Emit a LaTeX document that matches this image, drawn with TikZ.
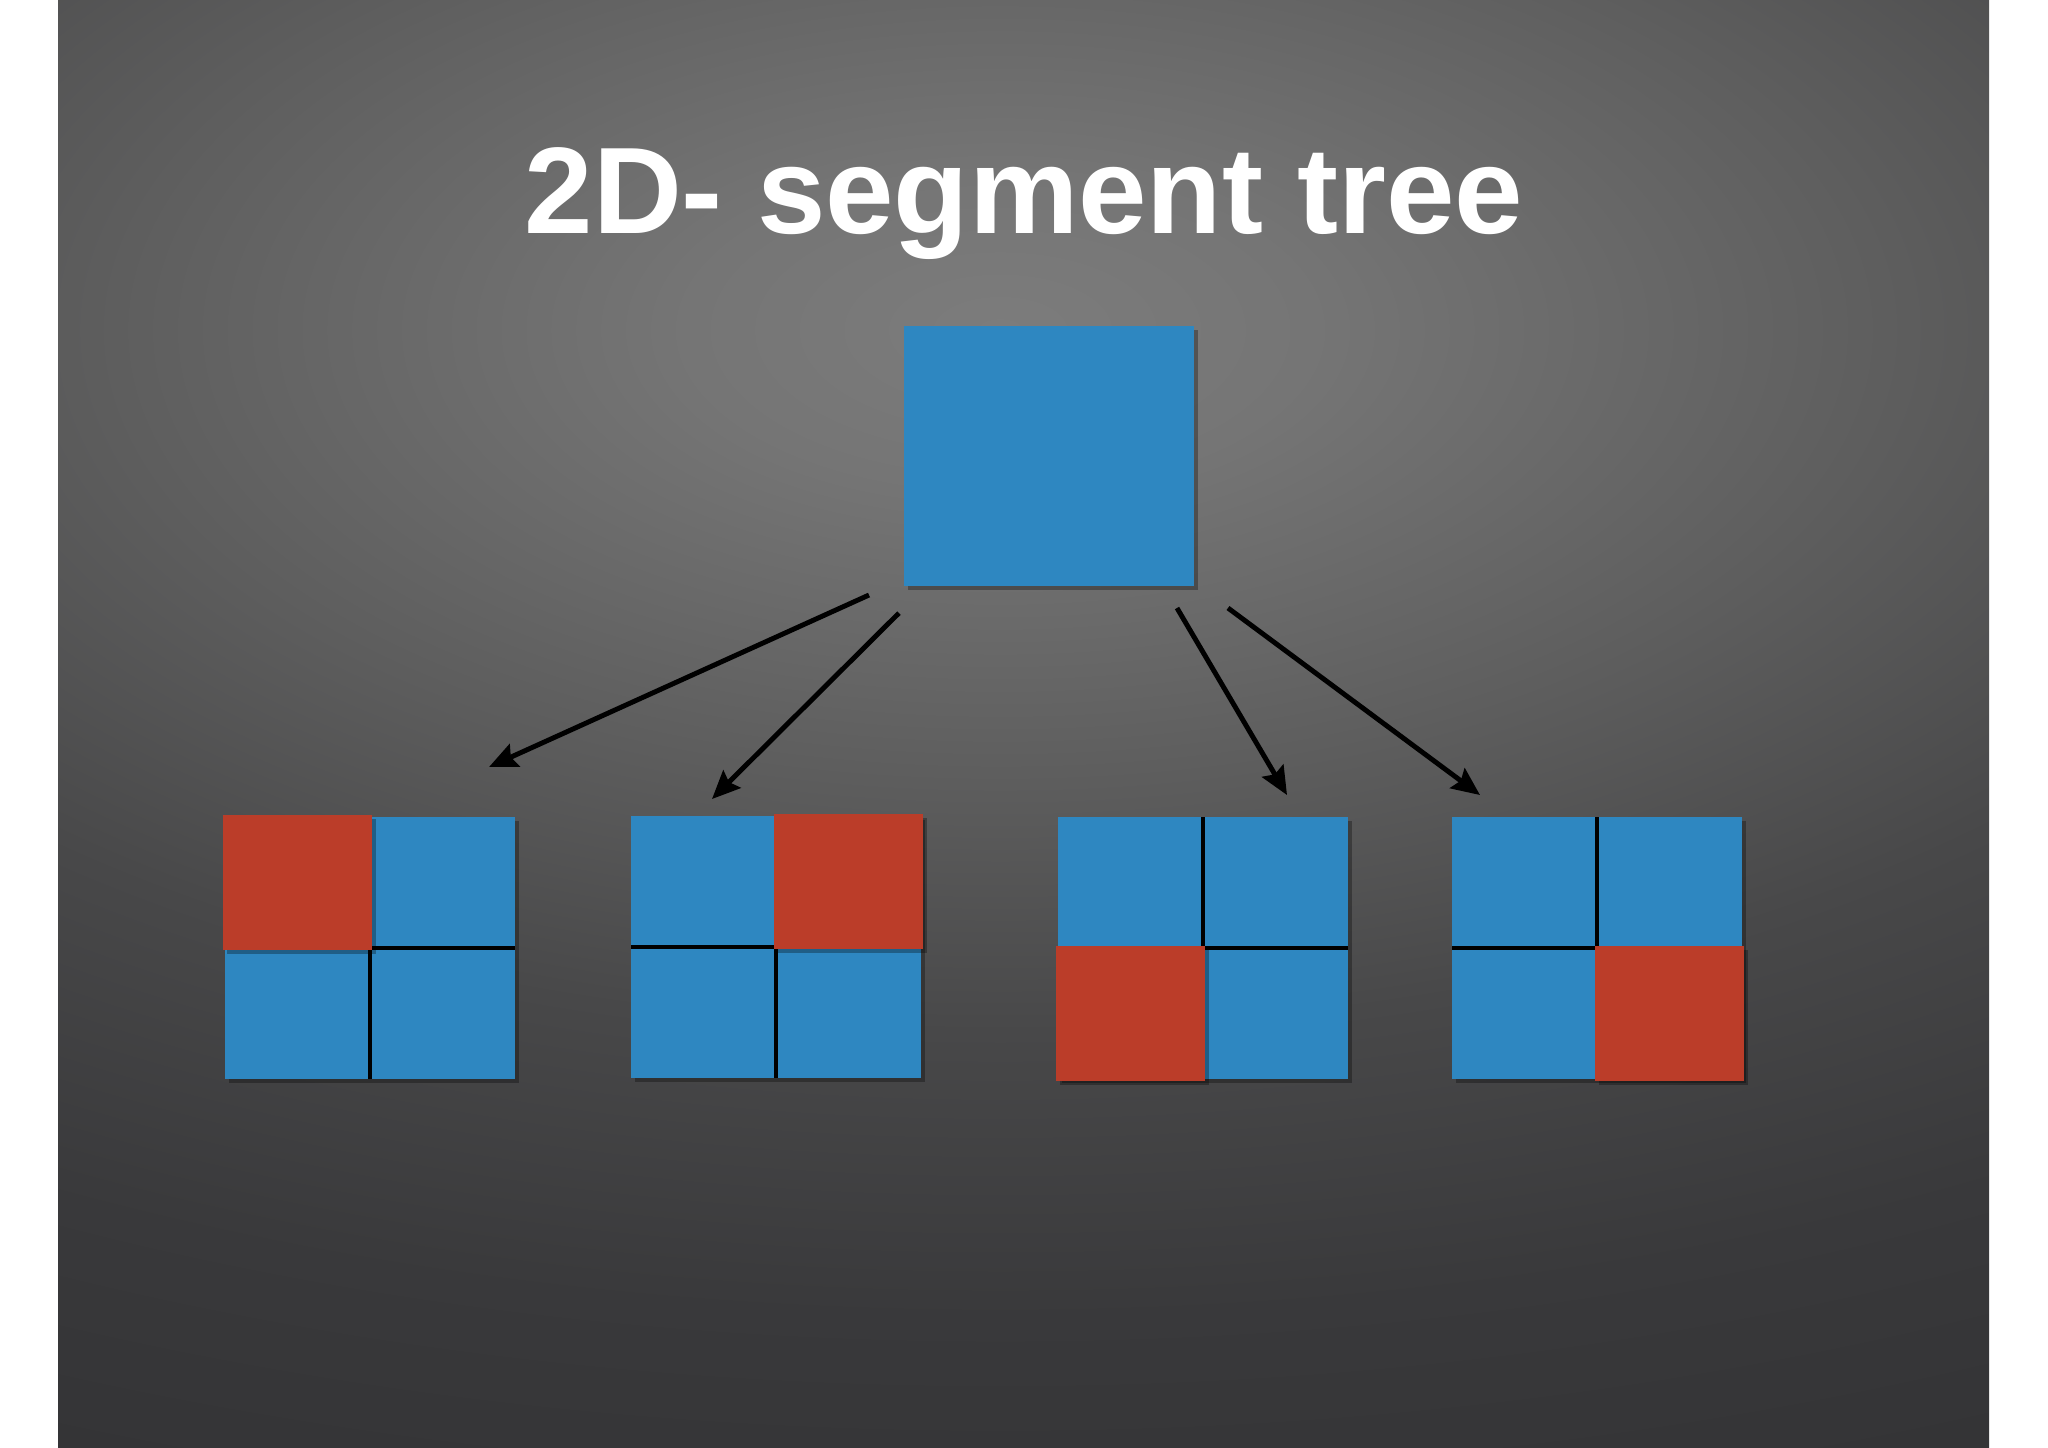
\documentclass[tikz,border=0pt]{standalone}
\usepackage{fontspec}
\setmainfont{Liberation Sans}
\usetikzlibrary{arrows.meta,shadows}
\definecolor{tileblue}{RGB}{46,135,193}
\definecolor{tilered}{RGB}{187,61,41}
\definecolor{bgA}{RGB}{124,124,124}
\definecolor{bgB}{RGB}{117,117,117}
\definecolor{bgC}{RGB}{94,94,94}
\definecolor{bgD}{RGB}{72,72,73}
\definecolor{bgE}{RGB}{57,57,59}
\definecolor{bgF}{RGB}{50,50,52}
\pgfdeclareradialshading{slidebg}{\pgfpoint{0bp}{0bp}}{color(0bp)=(bgA); color(3bp)=(bgB); color(8.5bp)=(bgC); color(13.5bp)=(bgD); color(19bp)=(bgE); color(25bp)=(bgF); color(50bp)=(bgF)}
\tikzset{
  tilebase/.style={rectangle, inner sep=0pt, outer sep=0pt, draw=none,
    drop shadow={fill=black, opacity=0.3, shadow xshift=1pt, shadow yshift=-1.2pt}},
  bluetile/.style={tilebase, fill=tileblue, minimum width=1.45cm, minimum height=1.31cm},
  redtile/.style={tilebase, fill=tilered, minimum width=1.49cm, minimum height=1.35cm},
  rootbox/.style={tilebase, fill=tileblue, minimum width=2.9cm, minimum height=2.6cm},
  divider/.style={draw=black, line width=1.4pt},
  link/.style={draw=black, line width=1.4pt, -{Stealth[length=8pt,width=7pt,inset=1.2pt]}},
  titletext/.style={text=white, font=\bfseries\fontsize{35}{40}\selectfont, inner sep=0pt}
}
\newcommand\quadbox[3]{% name, x, y
  \begin{scope}[shift={(#2,#3)}]
    \node[bluetile, anchor=north west] (#1tl) at (0,0) {};
    \node[bluetile, anchor=north west] (#1tr) at (145,0) {};
    \node[bluetile, anchor=north west] (#1bl) at (0,131) {};
    \node[bluetile, anchor=north west] (#1br) at (145,131) {};
    \draw[divider] (#1tr.north west) -- (#1br.south west);
    \draw[divider] (#1bl.north west) -- (#1br.north east);
  \end{scope}}
\begin{document}
\begin{tikzpicture}[x=0.01cm,y=-0.01cm]
\useasboundingbox (0,0) rectangle (2048,1447);
\fill[white] (0,0) rectangle (2048,1447);
\begin{scope}
  \clip (58,0) rectangle (1989,1447);
  \shade[shading=slidebg] (1000,330) ellipse [x radius=26cm, y radius=13cm];
\end{scope}

\node[titletext, anchor=base] (title) at (1024,233) {2D- segment tree};

\node[rootbox, anchor=north west] (root) at (904,326) {};

\quadbox{a}{225}{817}
\node[redtile] (ared) at (atl.center) {};
\quadbox{b}{631}{816}
\node[redtile] (bred) at (btr.center) {};
\quadbox{c}{1058}{817}
\node[redtile] (cred) at (cbl.center) {};
\quadbox{d}{1452}{817}
\node[redtile] (dred) at (dbr.center) {};

\coordinate (s1) at (869,595);
\coordinate (e1) at (489,767);
\coordinate (s2) at (899,613);
\coordinate (e2) at (712,799);
\coordinate (s3) at (1177,608);
\coordinate (e3) at (1287,795);
\coordinate (s4) at (1228,608);
\coordinate (e4) at (1480,795);
\draw[link] (s1) -- (e1);
\draw[link] (s2) -- (e2);
\draw[link] (s3) -- (e3);
\draw[link] (s4) -- (e4);
\end{tikzpicture}
\end{document}
